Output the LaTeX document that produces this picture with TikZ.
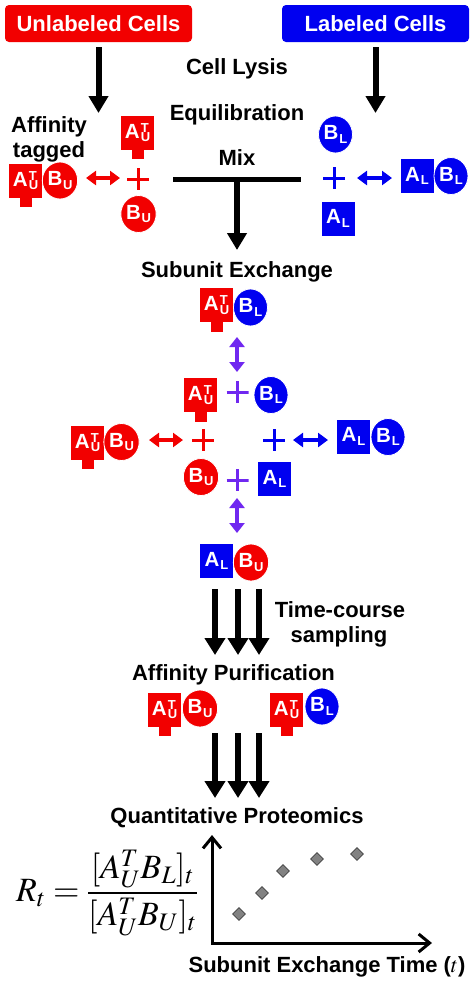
\documentclass[tikz,border=0pt]{standalone}
\usepackage{mathptmx}
\usepackage[no-math]{fontspec}
\setmainfont{Liberation Sans}
\usetikzlibrary{arrows.meta,shapes.geometric}
\definecolor{myred}{RGB}{242,0,0}
\definecolor{myblue}{RGB}{0,0,240}
\definecolor{mypurple}{RGB}{112,40,240}
\definecolor{mygray}{RGB}{130,130,130}
\newcommand\lblfont{\fontsize{22}{27}\selectfont\bfseries}
\newcommand\symfnt{\fontsize{20.5}{21}\selectfont\bfseries}
\newcommand\subfnt{\fontsize{13}{14}\selectfont\bfseries}
\newcommand\AT[1]{A\kern1.2pt\rlap{\raisebox{6pt}{\subfnt T}}\raisebox{-3.8pt}{\subfnt #1}}
\newcommand\SB[2]{#1\kern0.8pt\raisebox{-3.5pt}{\subfnt #2}}
\tikzset{
  box/.style={rounded corners=4pt, minimum width=187pt, minimum height=37pt, inner sep=0pt, text=white, font=\lblfont},
  lbl/.style={font=\lblfont, anchor=base, inner sep=0pt},
  sq/.style={rectangle, minimum width=33pt, minimum height=34pt, inner sep=0pt, text=white, font=\symfnt},
  tab/.style={rectangle, minimum width=12pt, minimum height=10pt, inner sep=0pt},
  el/.style={ellipse, minimum width=34pt, minimum height=37pt, inner sep=0pt, draw=white, line width=0.8pt, text=white, font=\symfnt},
  plussign/.style={minimum size=22pt, inner sep=0pt, path picture={\draw[#1, line width=3pt] (path picture bounding box.north) -- (path picture bounding box.south) (path picture bounding box.west) -- (path picture bounding box.east);}},
  bigarr/.style={line width=6pt, -{Triangle[length=17pt,width=19pt]}},
  triarr/.style={line width=6.5pt, -{Triangle[length=17pt,width=20pt]}},
  dbl/.style={line width=4pt, {Triangle[length=10pt,width=14pt]}-{Triangle[length=10pt,width=14pt]}},
  vdbl/.style={line width=4.5pt, {Triangle[length=10pt,width=15pt]}-{Triangle[length=10pt,width=15pt]}},
  dia/.style={diamond, draw=black!75, fill=mygray, line width=0.6pt, minimum width=13pt, minimum height=13pt, inner sep=0pt, aspect=1},
}
\newcommand\tagsq[2]{\node[sq, fill=myred] (#1) at (#2) {\AT{U}};
  \node[tab, fill=myred, anchor=north] (#1t) at ([yshift=0.5pt]#1.south) {};}
\begin{document}
\begin{tikzpicture}[x=1pt,y=-1pt]
\useasboundingbox (0,0) rectangle (474,983);
% top boxes
\node[box, fill=myred] (unl) at (98.5,23.5) {Unlabeled Cells};
\node[box, fill=myblue] (lab) at (375.5,23.5) {Labeled Cells};
\coordinate (a1e) at (98.5,113);
\coordinate (a2e) at (375.5,113);
\draw[bigarr, shorten <=5pt] (unl.south) -- (a1e);
\draw[bigarr, shorten <=5pt] (lab.south) -- (a2e);
% middle labels
\node[lbl] (lysis) at (237,74) {Cell Lysis};
\node[lbl] (equil) at (237,120) {Equilibration};
\node[lbl] (mix) at (237,165) {Mix};
\node[lbl] (aff1) at (49,132) {Affinity};
\node[lbl] (aff2) at (49,157) {tagged};
% T shape
\coordinate (mixL) at (173,179);
\coordinate (mixR) at (301,179);
\coordinate (mixC) at (237,179);
\draw[line width=5pt] (mixL) -- (mixR);
\node[lbl] (subex) at (237,277) {Subunit Exchange};
\coordinate (subexTop) at (237,250);
\draw[bigarr] (mixC) -- (subexTop);
% left top group
\tagsq{s1}{25.5,180.5}
\node[el, fill=myred] (e1) at (60,180.5) {\SB{B}{U}};
\tagsq{s2}{137.5,132.5}
\node[el, fill=myred] (e2) at (138.5,214) {\SB{B}{U}};
\node[plussign=myred] (p1) at (138,179) {};
\coordinate (r1a) at (86,178);
\coordinate (r1b) at (120,178);
\draw[dbl, myred] (r1a) -- (r1b);
% right top group
\node[el, fill=myblue] (e3) at (335.5,134.5) {\SB{B}{L}};
\node[plussign=myblue] (p2) at (334,178) {};
\node[sq, fill=myblue] (s3) at (338,218.5) {\SB{A}{L}};
\coordinate (b1a) at (357,178);
\coordinate (b1b) at (392,178);
\draw[dbl, myblue] (b1a) -- (b1b);
\node[sq, fill=myblue] (s6) at (417,176) {\SB{A}{L}};
\node[el, fill=myblue] (e6) at (451,176) {\SB{B}{L}};
% exchange scheme
\tagsq{s7}{216.5,305}
\node[el, fill=myblue] (e7) at (250.5,307.5) {\SB{B}{L}};
\coordinate (v1a) at (237,337);
\coordinate (v1b) at (237,372);
\draw[vdbl, mypurple] (v1a) -- (v1b);
\tagsq{s8}{200.5,395}
\node[plussign=mypurple] (p3) at (237.5,392) {};
\node[el, fill=myblue] (e8) at (271,395) {\SB{B}{L}};
\tagsq{s9}{87.5,442.5}
\node[el, fill=myred] (e9) at (121.5,442) {\SB{B}{U}};
\coordinate (r2a) at (149,440);
\coordinate (r2b) at (183,440);
\draw[dbl, myred] (r2a) -- (r2b);
\node[plussign=myred] (p4) at (203,440) {};
\node[plussign=myblue] (p5) at (274,440) {};
\coordinate (b2a) at (293,440);
\coordinate (b2b) at (328,440);
\draw[dbl, myblue] (b2a) -- (b2b);
\node[sq, fill=myblue] (s10) at (353.5,436.5) {\SB{A}{L}};
\node[el, fill=myblue] (e10) at (388,437) {\SB{B}{L}};
\node[el, fill=myred] (e11) at (201,477) {\SB{B}{U}};
\node[plussign=mypurple] (p6) at (237.5,480) {};
\node[sq, fill=myblue] (s11) at (274.5,479) {\SB{A}{L}};
\coordinate (v2a) at (237,498);
\coordinate (v2b) at (237,533);
\draw[vdbl, mypurple] (v2a) -- (v2b);
\node[sq, fill=myblue] (s12) at (216.5,561) {\SB{A}{L}};
\node[el, fill=myred] (e12) at (251,562.5) {\SB{B}{U}};
% sampling arrows
\foreach \i/\x in {1/215,2/238,3/259}{
  \coordinate (ta\i) at (\x,589);
  \coordinate (tb\i) at (\x,655);
  \draw[triarr] (ta\i) -- (tb\i);
}
\node[lbl] (tc1) at (340,617) {Time-course};
\node[lbl] (tc2) at (339,642) {sampling};
\node[lbl] (affpur) at (233.5,680) {Affinity Purification};
\tagsq{s13}{164.5,709.5}
\node[el, fill=myred] (e13) at (200,708.5) {\SB{B}{U}};
\tagsq{s14}{286.5,709.5}
\node[el, fill=myblue] (e14) at (322,706.5) {\SB{B}{L}};
\foreach \i/\x in {1/215,2/238,3/259}{
  \coordinate (qa\i) at (\x,733);
  \coordinate (qb\i) at (\x,798);
  \draw[triarr] (qa\i) -- (qb\i);
}
\node[lbl] (quant) at (237,823) {Quantitative Proteomics};
% formula
\node[inner sep=0pt] (form) at (107,893) {\fontsize{34}{38}\selectfont $R_t = \displaystyle\frac{[A_U^T B_L]_t}{[A_U^T B_U]_t}$};
% plot
\coordinate (ytop) at (212,835);
\coordinate (orig) at (212,943);
\coordinate (xend) at (432,943);
\draw[line width=3pt, {Straight Barb[length=11pt,width=18pt]}-{Straight Barb[length=11pt,width=18pt]}] (ytop) -- (orig) -- (xend);
\node[dia] (d1) at (239,914) {};
\node[dia] (d2) at (262,893) {};
\node[dia] (d3) at (283,871) {};
\node[dia] (d4) at (317,859) {};
\node[dia] (d5) at (357,854) {};
\node[lbl] (xlab) at (327,972) {Subunit Exchange Time ($t$)};
\end{tikzpicture}
\end{document}
